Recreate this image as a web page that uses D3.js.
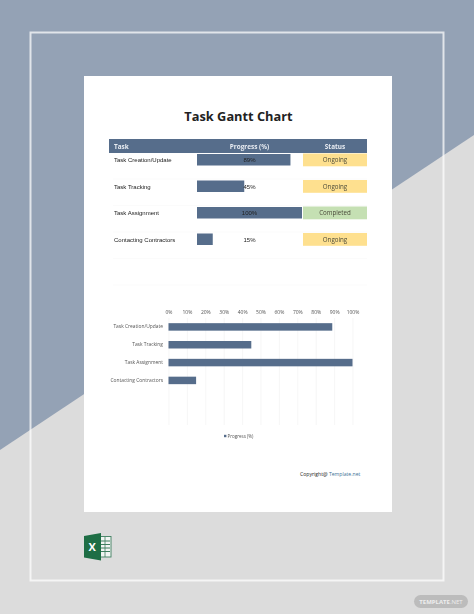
<!DOCTYPE html>
<html><head><meta charset="utf-8">
<style>html,body{margin:0;padding:0;background:#dcdcdc}svg{display:block}</style>
<script src="https://cdnjs.cloudflare.com/ajax/libs/d3/7.8.5/d3.min.js"></script>
</head><body><svg id="c" width="474" height="614"></svg>
<script>
const tasks = ["Task Creation/Update","Task Tracking","Task Assignment","Contacting Contractors"];
const progress = [89,45,100,15];
const statuses = ["Ongoing","Ongoing","Completed","Ongoing"];
const headers = ["Task","Progress (%)","Status"];
const ticks = [0,10,20,30,40,50,60,70,80,90,100];
const statusColors = {Ongoing:"#fee08f",Completed:"#c5e0b3"};
const blue = "#566d8b";
const svg = d3.select("#c");
const OS = "'Open Sans',sans-serif", AR = "'Liberation Sans',Arial,sans-serif";

// backdrop
svg.append("rect").attr("width",474).attr("height",614).attr("fill","#dcdcdc");
svg.append("path").attr("d","M0,0H474V135L0,450Z").attr("fill","#94a2b5");
svg.append("rect").attr("x",30.5).attr("y",32.5).attr("width",413).attr("height",548)
  .attr("fill","none").attr("stroke","#fff").attr("stroke-opacity",.72).attr("stroke-width",2);
svg.append("rect").attr("x",84).attr("y",76).attr("width",308).attr("height",436).attr("fill","#fff");

svg.append("text").attr("x",238.5).attr("y",121).attr("text-anchor","middle")
  .attr("font-family",OS).attr("font-weight",700).attr("font-size",12.8).attr("fill","#222").text("Task Gantt Chart");

// table
const rowY = d3.scaleLinear().domain([0,1]).range([153.5,180]);
const pct = d3.scaleLinear().domain([0,100]).range([197,302]);
const tbl = svg.append("g").style("filter","blur(0.3px)");
tbl.append("rect").attr("x",109).attr("y",139).attr("width",258).attr("height",14).attr("fill",blue);
const headX=[114,249.5,335], headA=["start","middle","middle"];
tbl.selectAll(".h").data(headers).join("text").attr("class","h")
  .attr("x",(d,i)=>headX[i]).attr("y",149).attr("text-anchor",(d,i)=>headA[i])
  .attr("font-family",OS).attr("font-weight",700).attr("font-size",6.4).attr("fill","#e8ecf2").text(d=>d);
tbl.selectAll(".rule").data(d3.range(5)).join("line").attr("class","rule")
  .attr("x1",113).attr("x2",367).attr("y1",d=>rowY(d)+25.5).attr("y2",d=>rowY(d)+25.5)
  .attr("stroke","#f8f8f8").attr("stroke-width",.6);
tbl.selectAll(".bar").data(progress).join("rect").attr("class","bar")
  .attr("x",pct(0)).attr("y",(d,i)=>rowY(i)+.5).attr("width",d=>pct(d)-pct(0)).attr("height",11.5).attr("fill",blue);
tbl.selectAll(".st").data(statuses).join("rect").attr("class","st")
  .attr("x",303).attr("y",(d,i)=>rowY(i)).attr("width",64).attr("height",12.8).attr("fill",d=>statusColors[d]);
tbl.selectAll(".tn").data(tasks).join("text").attr("class","tn")
  .attr("x",114).attr("y",(d,i)=>rowY(i)+8.6).attr("font-family",AR).attr("font-size",6).attr("fill","#222").text(d=>d);
tbl.selectAll(".pv").data(progress).join("text").attr("class","pv")
  .attr("x",249.5).attr("y",(d,i)=>rowY(i)+8.6).attr("text-anchor","middle").attr("font-family",AR).attr("font-size",6).attr("fill","#222").text(d=>d+"%");
tbl.selectAll(".sv").data(statuses).join("text").attr("class","sv")
  .attr("x",335).attr("y",(d,i)=>rowY(i)+8.8).attr("text-anchor","middle").attr("font-family",OS).attr("font-size",6.2).attr("fill","#4a4a3a").text(d=>d);

// chart
const x = d3.scaleLinear().domain([0,100]).range([168.5,352.5]);
const y = d3.scaleBand().domain([...tasks,"_a","_b"]).range([318,425]).paddingInner(.58).paddingOuter(.29);
const ch = svg.append("g").style("filter","blur(0.35px)");
ch.append("g").attr("transform","translate(0,425)")
  .call(d3.axisBottom(x).tickValues(ticks).tickSize(-107).tickFormat(""))
  .call(g=>g.select(".domain").remove())
  .call(g=>g.selectAll("line").attr("stroke","#f0f0f0").attr("stroke-width",.6));
ch.append("g").attr("transform","translate(0,318)")
  .call(d3.axisTop(x).tickValues(ticks).tickSize(0).tickPadding(4).tickFormat(d=>d+"%"))
  .call(g=>g.select(".domain").remove())
  .call(g=>g.selectAll("text").attr("font-family",OS).attr("font-size",5).attr("fill","#555"));
ch.append("g").attr("transform","translate(168.5,0)")
  .call(d3.axisLeft(y).tickValues(tasks).tickSize(0).tickPadding(5.5))
  .call(g=>g.select(".domain").remove())
  .call(g=>g.selectAll("text").attr("font-family",OS).attr("font-size",4.9).attr("fill","#555"));
ch.selectAll(".b").data(progress).join("rect").attr("class","b")
  .attr("x",x(0)).attr("y",(d,i)=>y(tasks[i])).attr("width",d=>x(d)-x(0)).attr("height",y.bandwidth()).attr("fill",blue);
ch.append("rect").attr("x",224).attr("y",434.8).attr("width",2.4).attr("height",2.4).attr("fill",blue);
ch.append("text").attr("x",227.5).attr("y",437.8).attr("font-family",OS).attr("font-size",4.5).attr("fill","#555").text("Progress (%)");

// footer
const ft = svg.append("text").attr("x",300).attr("y",475.5).attr("font-family",OS).attr("font-size",5.1).attr("fill","#222");
ft.append("tspan").text("Copyright@ ");
ft.append("tspan").attr("fill","#3f6f96").text("Template.net");

// excel icon
const xl = svg.append("g").attr("transform","translate(84,533)");
xl.append("rect").attr("x",12).attr("y",3.5).attr("width",15).attr("height",20.5).attr("fill","#f2f5f3").attr("stroke","#3f7f5f").attr("stroke-width",.9);
xl.selectAll(".g").data([8,11.5,15,18.5]).join("line").attr("class","g").attr("x1",16).attr("x2",26).attr("y1",d=>d).attr("y2",d=>d).attr("stroke","#3f7f5f").attr("stroke-width",1);
xl.append("line").attr("x1",21).attr("x2",21).attr("y1",4).attr("y2",24).attr("stroke","#3f7f5f").attr("stroke-width",.8);
xl.append("path").attr("d","M0,3L17,0V27.5L0,24.5Z").attr("fill","#1e6e45");
xl.append("text").attr("x",8.2).attr("y",18.3).attr("text-anchor","middle").attr("font-family",OS).attr("font-weight",700).attr("font-size",11).attr("fill","#fff").text("X");

// watermark
svg.append("rect").attr("x",414).attr("y",595).attr("width",54).attr("height",13).attr("rx",6.5).attr("fill","#bcbcbc");
const wm = svg.append("text").attr("x",441).attr("y",604).attr("text-anchor","middle").attr("font-family",OS).attr("font-weight",700).attr("font-size",6).attr("fill","#eee");
wm.append("tspan").text("TEMPLATE");
wm.append("tspan").attr("font-weight",400).text(".NET");
</script></body></html>
